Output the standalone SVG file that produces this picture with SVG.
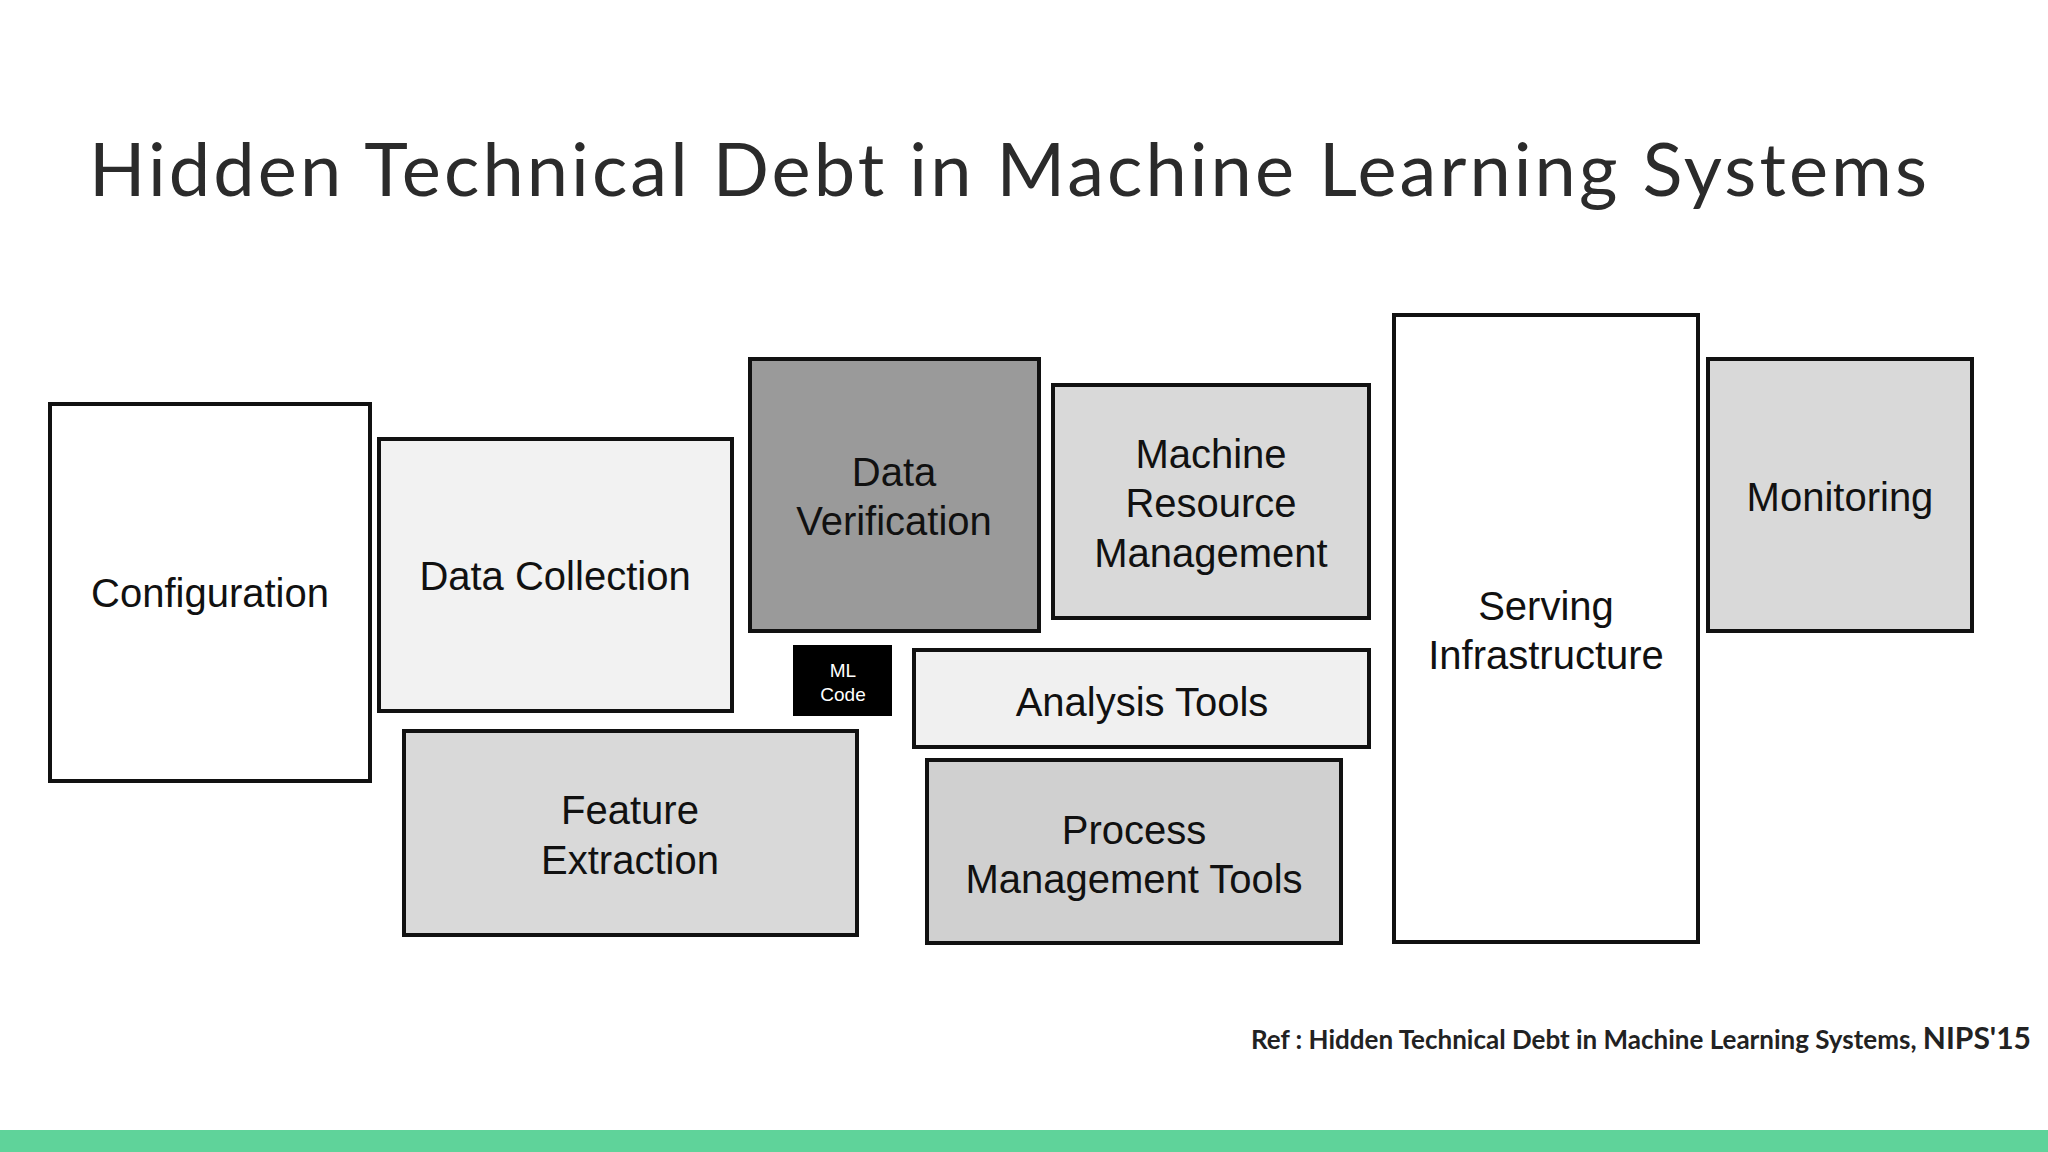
<svg xmlns="http://www.w3.org/2000/svg" width="2048" height="1152" viewBox="0 0 2048 1152">
<style>
.b{stroke:#111;stroke-width:4}
.t{font-family:"Liberation Sans",Arial,sans-serif;font-size:40px;fill:#111;text-anchor:middle}
</style>
<rect width="2048" height="1152" fill="#fff"/>
<text x="89" y="196" font-family="Lato,'Liberation Sans',sans-serif" font-size="74" fill="#2b2b2b" textLength="1838">Hidden Technical Debt in Machine Learning Systems</text>
<g id="configuration"><rect class="b" x="50" y="404" width="320" height="377" fill="#fff"/><text class="t" x="210" y="607">Configuration</text></g>
<g id="data-collection"><rect class="b" x="379" y="439" width="353" height="272" fill="#f2f2f2"/><text class="t" x="555" y="590">Data Collection</text></g>
<g id="data-verification"><rect class="b" x="750" y="359" width="289" height="272" fill="#9a9a9a"/><text class="t" x="894" y="486">Data</text><text class="t" x="894" y="535">Verification</text></g>
<g id="machine-resource"><rect class="b" x="1053" y="385" width="316" height="233" fill="#d9d9d9"/><text class="t" x="1211" y="468">Machine</text><text class="t" x="1211" y="517">Resource</text><text class="t" x="1211" y="567">Management</text></g>
<g id="serving"><rect class="b" x="1394" y="315" width="304" height="627" fill="#fff"/><text class="t" x="1546" y="620">Serving</text><text class="t" x="1546" y="669">Infrastructure</text></g>
<g id="monitoring"><rect class="b" x="1708" y="359" width="264" height="272" fill="#d9d9d9"/><text class="t" x="1840" y="511">Monitoring</text></g>
<g id="ml-code"><rect x="793" y="645" width="99" height="71" fill="#000"/><text x="843" y="677" font-family="'Liberation Sans',Arial,sans-serif" font-size="19" fill="#fff" text-anchor="middle">ML</text><text x="843" y="701" font-family="'Liberation Sans',Arial,sans-serif" font-size="19" fill="#fff" text-anchor="middle">Code</text></g>
<g id="analysis-tools"><rect class="b" x="914" y="650" width="455" height="97" fill="#f0f0f0"/><text class="t" x="1142" y="716">Analysis Tools</text></g>
<g id="feature-extraction"><rect class="b" x="404" y="731" width="453" height="204" fill="#d9d9d9"/><text class="t" x="630" y="824">Feature</text><text class="t" x="630" y="874">Extraction</text></g>
<g id="process-management"><rect class="b" x="927" y="760" width="414" height="183" fill="#d0d0d0"/><text class="t" x="1134" y="844">Process</text><text class="t" x="1134" y="893">Management Tools</text></g>
<g id="connectors"></g>
<text x="2031" y="1049" font-family="Lato,'Liberation Sans',sans-serif" font-size="26" font-weight="bold" fill="#222" text-anchor="end">Ref : Hidden Technical Debt in Machine Learning Systems, <tspan font-size="30">NIPS'15</tspan></text>
<rect x="0" y="1130" width="2048" height="22" fill="#5fd39a"/>
</svg>
